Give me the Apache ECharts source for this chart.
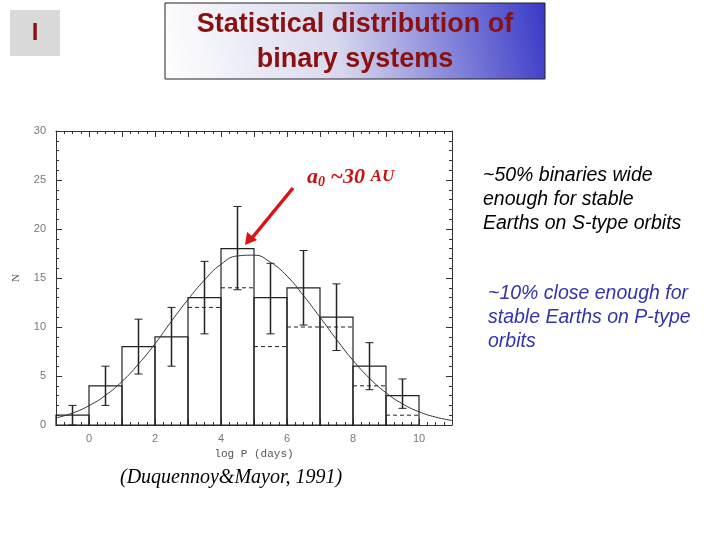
<!DOCTYPE html>
<html>
<head>
<meta charset="utf-8">
<script src="https://cdn.jsdelivr.net/npm/echarts@6/dist/echarts.min.js"></script>
<style>html,body{margin:0;padding:0;background:#fff}#main{width:720px;height:540px}</style>
</head>
<body>
<div id="main"></div>
<script>
// histogram bins (log P, width 1)
var binStart = [-1, 0, 1, 2, 3, 4, 5, 6, 7, 8, 9];
var solidN   = [1, 4, 8, 9, 13, 18, 13, 14, 11, 6, 3];
var dashedN  = [1, 4, 8, 9, 12, 14, 8, 10, 10, 4, 1];
var errLow   = [0, 2, 5.2, 6, 9.3, 13.8, 9.3, 10.2, 7.6, 3.6, 1.7];
var errHigh  = [2, 6, 10.8, 12, 16.7, 22.3, 16.5, 17.8, 14.4, 8.4, 4.7];
// fitted curve
var curveX = [-1, -0.5, 0, 0.5, 1, 1.5, 2, 2.5, 3, 3.5, 4, 4.5, 5, 5.5, 6, 6.5, 7, 7.5, 8, 8.5, 9, 9.5, 10, 10.5, 11];
var curveY = [0.72, 1.22, 1.97, 3.03, 4.44, 6.22, 8.29, 10.6, 12.8, 14.8, 16.4, 17.25, 17.33, 16.6, 15.2, 13.2, 11.0, 8.73, 6.6, 4.77, 3.29, 2.16, 1.35, 0.81, 0.46];

var chart = echarts.init(document.getElementById('main'));
var ink = '#333';
var lab = {color: '#777', fontSize: 11, fontFamily: 'Liberation Sans'};

function rows(vals) {
    return binStart.map(function (b, i) { return [b, vals[i], i]; });
}

var axisX = {
    type: 'value', min: -1, max: 11, interval: 1,
    axisLine: {onZero: false, lineStyle: {color: ink}},
    axisTick: {inside: true, length: 6, lineStyle: {color: ink}},
    minorTick: {show: true, splitNumber: 4, length: 3, lineStyle: {color: ink}},
    splitLine: {show: false}
};
var axisY = {
    type: 'value', min: 0, max: 30, interval: 5,
    axisLine: {onZero: false, lineStyle: {color: ink}},
    axisTick: {inside: true, length: 6, lineStyle: {color: ink}},
    minorTick: {show: true, splitNumber: 5, length: 3, lineStyle: {color: ink}},
    splitLine: {show: false}
};

chart.setOption({
    animation: false,
    grid: {left: 56, right: 268, top: 131, bottom: 115},
    xAxis: [
        Object.assign({}, axisX, {
            position: 'bottom',
            name: 'log P (days)', nameLocation: 'middle', nameGap: 16,
            nameTextStyle: {color: '#555', fontSize: 11, fontFamily: 'Liberation Mono'},
            axisLabel: Object.assign({margin: 8, formatter: function (v) { return v % 2 === 0 ? v : ''; }}, lab)
        }),
        Object.assign({}, axisX, {position: 'top', axisLabel: {show: false}})
    ],
    yAxis: [
        Object.assign({}, axisY, {
            position: 'left',
            name: 'N', nameLocation: 'middle', nameGap: 34,
            nameTextStyle: {color: '#555', fontSize: 11, fontFamily: 'Liberation Serif'},
            axisLabel: Object.assign({margin: 10}, lab)
        }),
        Object.assign({}, axisY, {position: 'right', axisLabel: {show: false}})
    ],
    graphic: [
        {type: 'rect', shape: {x: 10, y: 10, width: 50, height: 46}, style: {fill: '#d9d9d9'}},
        {type: 'text', x: 35, y: 33, style: {text: 'I', fill: '#8b1010', font: 'bold 24px Liberation Sans', textAlign: 'center', textVerticalAlign: 'middle'}},
        {type: 'rect', shape: {x: 165, y: 3, width: 380, height: 76},
         style: {stroke: '#222', lineWidth: 1,
                 fill: new echarts.graphic.LinearGradient(0, 1, 1, 0, [{offset: 0, color: '#ffffff'}, {offset: 0.45, color: '#d8d8ee'}, {offset: 1, color: '#3838c8'}])}},
        {type: 'text', x: 355, y: 42, style: {text: 'Statistical distribution of\nbinary systems', fill: '#8b1010', font: 'bold 27px Liberation Sans', lineHeight: 35, textAlign: 'center', textVerticalAlign: 'middle'}},
        {type: 'line', shape: {x1: 293, y1: 188, x2: 252, y2: 238}, style: {stroke: '#dd1111', lineWidth: 3.5}},
        {type: 'polygon', shape: {points: [[245, 245], [247, 232], [257, 240]]}, style: {fill: '#dd1111'}},
        {type: 'text', x: 307, y: 177, style: {
            text: '{a|a}{s|0}{a| ~30 }{u|AU}', textVerticalAlign: 'middle',
            rich: {
                a: {fill: '#cc1111', font: 'bold italic 22px Liberation Serif'},
                s: {fill: '#cc1111', font: 'bold italic 14px Liberation Serif', padding: [10, 0, 0, 0]},
                u: {fill: '#cc1111', font: 'bold italic 17px Liberation Serif'}
            }}},
        {type: 'text', x: 483, y: 164, style: {text: '~50% binaries wide\nenough for stable\nEarths on S-type orbits', fill: '#000', font: 'italic 19.5px Liberation Sans', lineHeight: 24}},
        {type: 'text', x: 488, y: 282, style: {text: '~10% close enough for\nstable Earths on P-type\norbits', fill: '#3333aa', font: 'italic 19.5px Liberation Sans', lineHeight: 24}},
        {type: 'text', x: 120, y: 468, style: {text: '(Duquennoy&Mayor, 1991)', fill: '#000', font: 'italic 20px Liberation Serif'}}
    ],
    series: [
        {
            type: 'custom', data: rows(solidN), encode: {x: 0, y: 1},
            renderItem: function (p, api) {
                var a = api.coord([api.value(0), 0]);
                var b = api.coord([api.value(0) + 1, api.value(1)]);
                return {type: 'rect', shape: {x: a[0], y: b[1], width: b[0] - a[0], height: a[1] - b[1]},
                        style: {fill: 'none', stroke: '#222', lineWidth: 1.2}};
            }
        },
        {
            type: 'custom', data: rows(dashedN), encode: {x: 0, y: 1},
            renderItem: function (p, api) {
                var i = api.value(2);
                if (dashedN[i] === solidN[i]) return null;
                var a = api.coord([api.value(0), api.value(1)]);
                var b = api.coord([api.value(0) + 1, api.value(1)]);
                return {type: 'line', shape: {x1: a[0], y1: a[1], x2: b[0], y2: b[1]},
                        style: {stroke: '#222', lineWidth: 1, lineDash: [4, 3]}};
            }
        },
        {
            type: 'custom',
            data: binStart.map(function (b, i) { return [b + 0.5, errLow[i], errHigh[i]]; }),
            encode: {x: 0, y: [1, 2]},
            renderItem: function (p, api) {
                var lo = api.coord([api.value(0), api.value(1)]);
                var hi = api.coord([api.value(0), api.value(2)]);
                var w = 4;
                return {type: 'group', children: [
                    {type: 'line', shape: {x1: lo[0], y1: lo[1], x2: hi[0], y2: hi[1]}, style: {stroke: '#222', lineWidth: 1.5}},
                    {type: 'line', shape: {x1: lo[0] - w, y1: lo[1], x2: lo[0] + w, y2: lo[1]}, style: {stroke: '#222', lineWidth: 1}},
                    {type: 'line', shape: {x1: hi[0] - w, y1: hi[1], x2: hi[0] + w, y2: hi[1]}, style: {stroke: '#222', lineWidth: 1}}
                ]};
            }
        },
        {
            type: 'line', smooth: true, symbol: 'none',
            data: curveX.map(function (x, i) { return [x, curveY[i]]; }),
            lineStyle: {color: '#333', width: 1}
        }
    ]
});
</script>
</body>
</html>
